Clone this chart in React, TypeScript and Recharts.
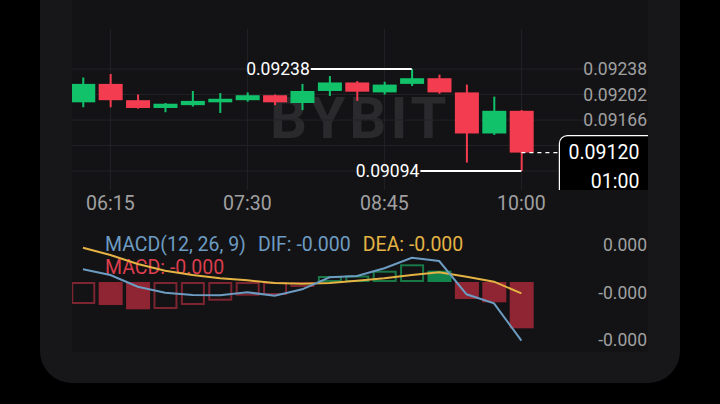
import React from 'react';
import { ComposedChart, Bar, Line, Scatter, XAxis, YAxis, CartesianGrid } from 'recharts';

// 15m candles, 06:00 -> 10:00
const times = ['06:00', '06:15', '06:30', '06:45', '07:00', '07:15', '07:30', '07:45', '08:00', '08:15', '08:30', '08:45', '09:00', '09:15', '09:30', '09:45', '10:00'];
const opens = [0.09191, 0.09217, 0.09194, 0.09183, 0.09187, 0.09191, 0.09194, 0.09201, 0.0919, 0.09207, 0.09219, 0.09205, 0.09217, 0.09225, 0.09205, 0.09147, 0.09179];
const closes = [0.09217, 0.09194, 0.09183, 0.09189, 0.09193, 0.09196, 0.09201, 0.09191, 0.09207, 0.09219, 0.09206, 0.09216, 0.09225, 0.09205, 0.09147, 0.09179, 0.0912];
const highs = [0.09226, 0.09231, 0.09202, 0.0919, 0.09207, 0.09204, 0.09205, 0.09202, 0.09217, 0.09228, 0.09221, 0.0922, 0.09238, 0.0923, 0.09216, 0.09199, 0.0918];
const lows = [0.09184, 0.09184, 0.09182, 0.09177, 0.09185, 0.09176, 0.09192, 0.09187, 0.0918, 0.092, 0.09193, 0.09202, 0.09214, 0.09203, 0.09106, 0.09145, 0.09094];

const xTicks = [1, 6, 11, 16];
const xTickLabels = ['06:15', '07:30', '08:45', '10:00'];
// grid rows; the lower two labels sit under the last-price box, so only the top three are labelled
const priceGrid = [0.09094, 0.0913, 0.09166, 0.09202, 0.09238];
const priceLabels = [0.09166, 0.09202, 0.09238];
const countdown = '01:00';

// MACD(12, 26, 9), values in units of 1e-6
const difE6 = [12.7, 7, -4.7, -10.7, -13, -13.3, -10.3, -13.7, -7.3, 4.7, 6, 13.7, 24.3, 21, -12.3, -21.3, -58.7];
const deaE6 = [34.3, 27, 18, 11.3, 7, 3.7, 1.7, -1, -1.7, -1, 1.3, 3.7, 7, 9.7, 5.3, 0.3, -11.3];
const histE6 = [-22, -23, -27.3, -27, -23, -18.7, -13.7, -13, -5, 6, 6.5, 11.3, 17.7, 11.3, -17, -20.3, -46.3];
const macdTicksE6 = [37, -11, -58];

const FONT = 'Roboto, "Noto Sans", sans-serif';
const GREEN = '#11c26b';
const RED = '#f43c50';
const GRID = '#232327';
const AXIS_TEXT = '#a0a0a0';
const X_DOMAIN: [number, number] = [-0.4, 20.62];

const fmt3 = (vE6: number) => (vE6 * 1e-6).toFixed(3);

const candleData = times.map((t, i) => ({
  i,
  t,
  open: opens[i],
  close: closes[i],
  high: highs[i],
  low: lows[i],
  range: [lows[i], highs[i]],
}));

const macdData = times.map((t, i) => ({
  i,
  t,
  dif: difE6[i],
  dea: deaE6[i],
  hist: histE6[i],
  prev: i > 0 ? histE6[i - 1] : undefined,
}));

const hiIdx = highs.indexOf(Math.max(...highs));
const loIdx = lows.indexOf(Math.min(...lows));
const last = candleData.length - 1;

const Candle = (props: any) => {
  const { x, y, width, height, payload } = props;
  const { open, close, high, low } = payload;
  const top = Math.min(y, y + height);
  const h = Math.abs(height);
  const color = close >= open ? GREEN : RED;
  const k = h / (high - low);
  const bodyTop = top + (high - Math.max(open, close)) * k;
  const bodyH = Math.max(2, Math.abs(close - open) * k);
  const cx = x + width / 2;
  return (
    <g>
      <line x1={cx} x2={cx} y1={top} y2={top + h} stroke={color} strokeWidth={2} />
      <rect x={x} y={bodyTop} width={width} height={bodyH} fill={color} />
    </g>
  );
};

const HistBar = (props: any) => {
  const { x, y, width, height, payload } = props;
  const top = Math.min(y, y + height);
  const h = Math.max(1, Math.abs(height));
  const v = payload.hist;
  const hollow = payload.prev === undefined || v > payload.prev;
  const up = v >= 0;
  if (hollow) {
    return (
      <rect x={x + 1} y={top + 1} width={width - 2} height={Math.max(0, h - 2)} fill="none"
        stroke={up ? '#1a7846' : '#7c2430'} strokeWidth={2} />
    );
  }
  return <rect x={x} y={top} width={width} height={h} fill={up ? '#13854c' : '#8f2532'} />;
};

const ExtremeMark = (props: any) => {
  const { cx, cy, payload } = props;
  return (
    <g>
      <line x1={cx - 101} x2={cx} y1={cy} y2={cy} stroke="#fff" strokeWidth={2} />
      <text x={cx - 102} y={cy} dy="0.36em" textAnchor="end" fill="#fff" fontSize={17.5}>
        {payload.p.toFixed(5)}
      </text>
    </g>
  );
};

const LastPrice = (props: any) => {
  const { cx, cy, payload } = props;
  const bx = cx + 38;
  return (
    <g>
      <line x1={cx} x2={bx} y1={cy} y2={cy} stroke="#fff" strokeWidth={1.2} strokeDasharray="4 4" />
      <rect x={bx} y={cy - 17} width={110} height={63} rx={8} fill="#000" stroke="#fff" strokeWidth={1.2} />
      <text x={bx + 80} y={cy + 6} textAnchor="end" fill="#fff" fontSize={19.5}>{payload.p.toFixed(5)}</text>
      <text x={bx + 80} y={cy + 35} textAnchor="end" fill="#fff" fontSize={19.5}>{countdown}</text>
    </g>
  );
};

export default function App() {
  return (
    <div style={{ position: 'fixed', left: 0, top: 0, width: 720, height: 404, background: '#000', overflow: 'hidden', fontFamily: FONT }}>
      <div style={{ position: 'absolute', left: 40, top: -40, width: 640, height: 423, background: '#17171a', borderRadius: 32 }} />
      <div style={{ position: 'absolute', left: 72, top: 0, width: 576, height: 352, background: '#131316' }} />
      <div style={{ position: 'absolute', left: 270, top: 89, fontSize: 58, lineHeight: '58px', fontWeight: 700, color: '#2a2a2d', letterSpacing: 4 }}>
        BYBIT
      </div>
      <div style={{ position: 'absolute', left: 105, top: 232, fontSize: 19.5, lineHeight: '26px', whiteSpace: 'pre' }}>
        <span style={{ color: '#6d9cc2', marginRight: 12 }}>MACD(12, 26, 9)</span>
        <span style={{ color: '#6d9cc2', marginRight: 12 }}>DIF: {fmt3(difE6[last])}</span>
        <span style={{ color: '#e4b343' }}>DEA: {fmt3(deaE6[last])}</span>
      </div>
      <div style={{ position: 'absolute', left: 105, top: 255, fontSize: 19.5, lineHeight: '26px', color: '#dc3e4c' }}>
        MACD: {fmt3(histE6[last])}
      </div>

      <div style={{ position: 'absolute', left: 0, top: 0 }}>
        <ComposedChart width={648} height={215} data={candleData} margin={{ top: 29, right: 0, bottom: 0, left: 72 }}>
          <CartesianGrid stroke={GRID} strokeWidth={1} horizontalValues={priceGrid} verticalValues={xTicks} />
          <XAxis dataKey="i" type="number" domain={X_DOMAIN} allowDataOverflow ticks={xTicks}
            tickFormatter={(v: number) => xTickLabels[xTicks.indexOf(v)] ?? ''}
            height={25} axisLine={false} tickLine={false} tickSize={0} tickMargin={6}
            tick={{ fill: AXIS_TEXT, fontSize: 19.5 }} />
          <YAxis orientation="right" mirror width={80} domain={[0.090672, 0.092945]} allowDataOverflow
            ticks={priceLabels} tickFormatter={(v: number) => v.toFixed(5)} interval={0}
            axisLine={false} tickLine={false} tickSize={0} tickMargin={1}
            tick={{ fill: AXIS_TEXT, fontSize: 17.5 }} />
          <Bar dataKey="range" barSize={24} shape={<Candle />} isAnimationActive={false} />
          <Scatter data={[{ i: hiIdx, p: highs[hiIdx] }, { i: loIdx, p: lows[loIdx] }]} dataKey="p"
            shape={<ExtremeMark />} isAnimationActive={false} />
          <Scatter data={[{ i: last, p: closes[last] }]} dataKey="p" shape={<LastPrice />} isAnimationActive={false} />
        </ComposedChart>
      </div>

      <div style={{ position: 'absolute', left: 0, top: 225 }}>
        <ComposedChart width={648} height={135} data={macdData} margin={{ top: 7, right: 0, bottom: 8, left: 72 }}>
          <XAxis dataKey="i" type="number" domain={X_DOMAIN} allowDataOverflow hide />
          <YAxis orientation="right" mirror width={80} domain={[-70, 50]} allowDataOverflow
            ticks={macdTicksE6} tickFormatter={fmt3} interval={0}
            axisLine={false} tickLine={false} tickSize={0} tickMargin={1}
            tick={{ fill: AXIS_TEXT, fontSize: 17.5 }} />
          <Bar dataKey="hist" barSize={24} shape={<HistBar />} isAnimationActive={false} />
          <Line dataKey="dea" type="linear" stroke="#e4b343" strokeWidth={2} dot={false} isAnimationActive={false} />
          <Line dataKey="dif" type="linear" stroke="#6d9cc2" strokeWidth={2} dot={false} isAnimationActive={false} />
        </ComposedChart>
      </div>
    </div>
  );
}
